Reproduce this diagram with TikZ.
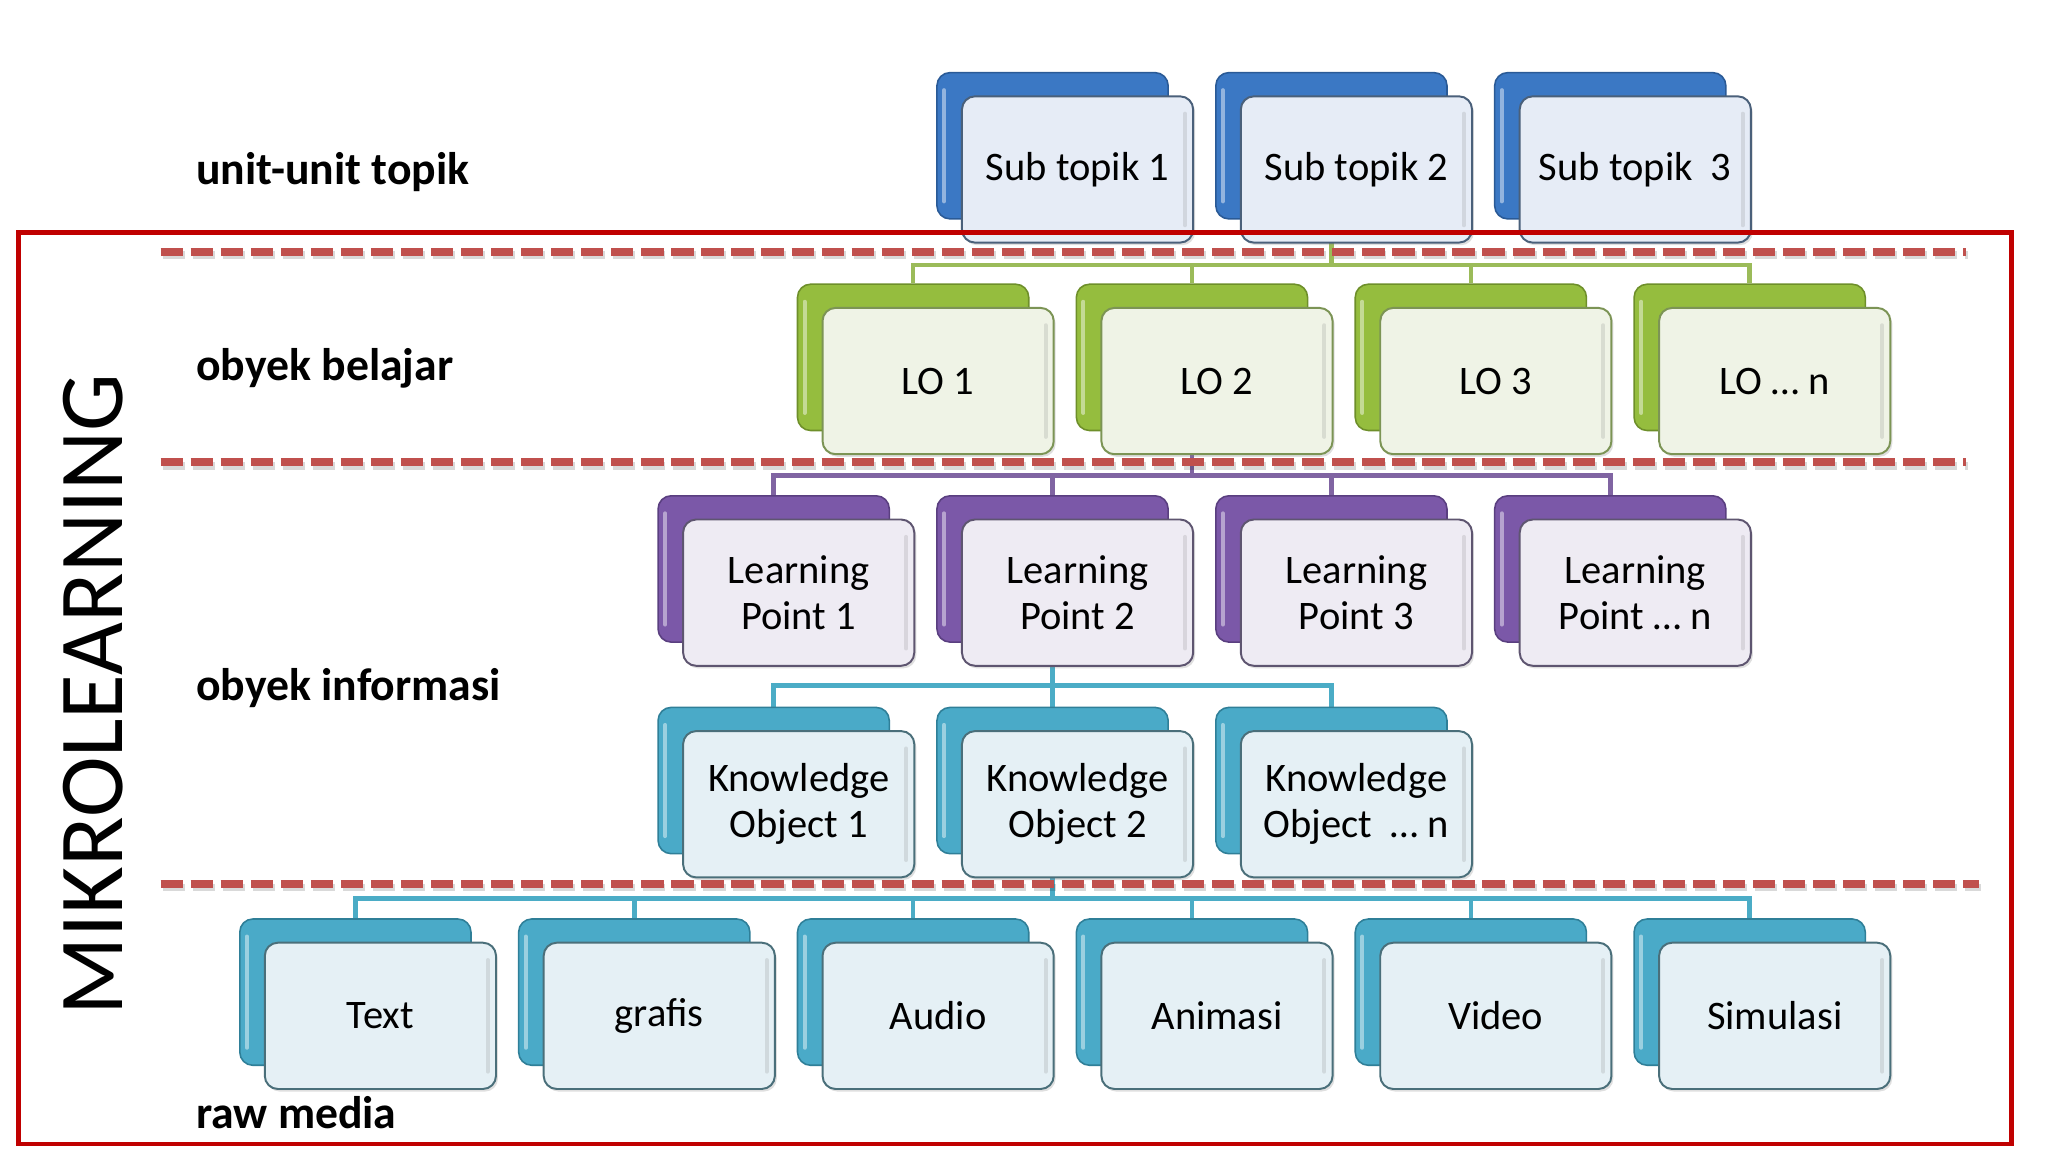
\documentclass[tikz,border=0pt]{standalone}
\usepackage{fontspec}
\setmainfont{Carlito}
\usetikzlibrary{shadows}
\pgfdeclarelayer{bg}
\pgfsetlayers{bg,main}
\definecolor{cblue}{HTML}{3B78C4}
\definecolor{cbluedk}{HTML}{2A5A96}
\definecolor{cbluefr}{HTML}{E6ECF6}
\definecolor{cbluebd}{HTML}{4A607A}
\definecolor{cgreen}{HTML}{95BD3E}
\definecolor{cgreendk}{HTML}{6E8F2A}
\definecolor{cgreenfr}{HTML}{EFF3E6}
\definecolor{cgreenbd}{HTML}{7C9455}
\definecolor{cpurple}{HTML}{7B58A8}
\definecolor{cpurpledk}{HTML}{5A3F80}
\definecolor{cpurplefr}{HTML}{EEEBF3}
\definecolor{cpurplebd}{HTML}{5E5570}
\definecolor{ccyan}{HTML}{4AAAC8}
\definecolor{ccyandk}{HTML}{2F7F98}
\definecolor{ccyanfr}{HTML}{E5F0F5}
\definecolor{ccyanbd}{HTML}{4A6F7A}
\definecolor{lgreen}{HTML}{9BBB59}
\definecolor{lpurple}{HTML}{8064A2}
\definecolor{lcyan}{HTML}{4BACC6}
\definecolor{dashred}{HTML}{C0504D}
\definecolor{framered}{HTML}{C00000}
\tikzset{
  backbox/.style={rounded corners=10pt, minimum width=177pt, minimum height=112pt, inner sep=0pt, anchor=north west, line width=1.2pt},
  frontbox/.style={rounded corners=10pt, minimum width=177pt, minimum height=112pt, inner sep=0pt, anchor=north west, line width=1.5pt, align=center, font=\fontsize{31}{35}\selectfont, drop shadow={opacity=0.25, shadow xshift=1.5pt, shadow yshift=-2pt}},
  conn/.style={line width=3.5pt},
  sepline/.style={dashred, line width=6pt, dash pattern=on 17pt off 6pt},
  sepshadow/.style={black, opacity=0.15, line width=6pt, dash pattern=on 17pt off 6pt},
  lab/.style={anchor=base west, font=\bfseries\fontsize{35}{40}\selectfont, inner sep=0pt},
}
\newcommand{\tbox}[5]{%
  \node[backbox, fill=#4, draw=#4dk] (#1b) at (#2,#3) {};
  \draw[white, opacity=0.45, line width=3pt, line cap=round] ([xshift=6pt,yshift=-14pt]#1b.north west) -- ([xshift=6pt,yshift=14pt]#1b.south west);
  \node[frontbox, fill=#4fr, draw=#4bd] (#1) at ([xshift=19pt,yshift=-18pt]#1b.north west) {#5};
  \draw[gray, opacity=0.2, line width=3pt, line cap=round] ([xshift=-7pt,yshift=-14pt]#1.north east) -- ([xshift=-7pt,yshift=14pt]#1.south east);
}
\begin{document}
\begin{tikzpicture}[x=1pt, y=-1pt]
\useasboundingbox (0,0) rectangle (1568,882);
\begin{pgfonlayer}{bg}
\fill[white] (0,0) rectangle (1568,882);
\end{pgfonlayer}

% separator lines
\coordinate (d1a) at (123,193); \coordinate (d1b) at (1505,193);
\coordinate (d2a) at (123,354); \coordinate (d2b) at (1505,354);
\coordinate (d3a) at (123,677); \coordinate (d3b) at (1515,677);
\foreach \a/\b in {d1a/d1b, d2a/d2b, d3a/d3b} {
  \draw[sepshadow] ([xshift=1.5pt,yshift=-2.5pt]\a) -- ([xshift=1.5pt,yshift=-2.5pt]\b);
  \draw[sepline] (\a) -- (\b);
}

% bar levels
\coordinate (gy) at (0,203);
\coordinate (py) at (0,364);
\coordinate (cy) at (0,525);
\coordinate (ry) at (0,688);

% Sub topik
\tbox{st1}{716.75}{55}{cblue}{Sub topik 1}
\tbox{st2}{930.25}{55}{cblue}{Sub topik 2}
\tbox{st3}{1143.75}{55}{cblue}{Sub topik\ \ 3}
% LO
\tbox{lo1}{610}{217}{cgreen}{LO 1}
\tbox{lo2}{823.5}{217}{cgreen}{LO 2}
\tbox{lo3}{1037}{217}{cgreen}{LO 3}
\tbox{lo4}{1250.5}{217}{cgreen}{LO … n}
% Learning points
\tbox{lp1}{503.25}{379}{cpurple}{Learning\\Point 1}
\tbox{lp2}{716.75}{379}{cpurple}{Learning\\Point 2}
\tbox{lp3}{930.25}{379}{cpurple}{Learning\\Point 3}
\tbox{lp4}{1143.75}{379}{cpurple}{Learning\\Point … n}
% Knowledge objects
\tbox{ko1}{503.25}{541}{ccyan}{Knowledge\\Object 1}
\tbox{ko2}{716.75}{541}{ccyan}{Knowledge\\Object 2}
\tbox{ko3}{930.25}{541}{ccyan}{Knowledge\\Object\ \ … n}
% raw media
\tbox{rm1}{183}{703}{ccyan}{Text}
\tbox{rm2}{396.5}{703}{ccyan}{grafis}
\tbox{rm3}{610}{703}{ccyan}{Audio}
\tbox{rm4}{823.5}{703}{ccyan}{Animasi}
\tbox{rm5}{1037}{703}{ccyan}{Video}
\tbox{rm6}{1250.5}{703}{ccyan}{Simulasi}

% connectors on background layer
\begin{pgfonlayer}{bg}
\foreach \c in {lo1b,lo2b,lo3b,lo4b}
  \draw[conn, lgreen] (st2b.south) -- (st2b.south |- gy) -| (\c.north);
\foreach \c in {lp1b,lp2b,lp3b,lp4b}
  \draw[conn, lpurple] (lo2b.south) -- (lo2b.south |- py) -| (\c.north);
\foreach \c in {ko1b,ko2b,ko3b}
  \draw[conn, lcyan] (lp2b.south) -- (lp2b.south |- cy) -| (\c.north);
\foreach \c in {rm1b,rm2b,rm3b,rm4b,rm5b,rm6b}
  \draw[conn, lcyan] (ko2b.south) -- (ko2b.south |- ry) -| (\c.north);
\end{pgfonlayer}

% frame
\draw[framered, line width=3.5pt] (14,178) rectangle (1540,876);

% labels
\node[rotate=90, font=\fontsize{70}{70}\selectfont, inner sep=0pt] (mk) at (71,532) {MIKROLEARNING};
\node[lab] (l1) at (150,141) {unit-unit topik};
\node[lab] (l2) at (150,291) {obyek belajar};
\node[lab] (l3) at (150,536) {obyek informasi};
\node[lab] (l4) at (150,864) {raw media};
\end{tikzpicture}
\end{document}
